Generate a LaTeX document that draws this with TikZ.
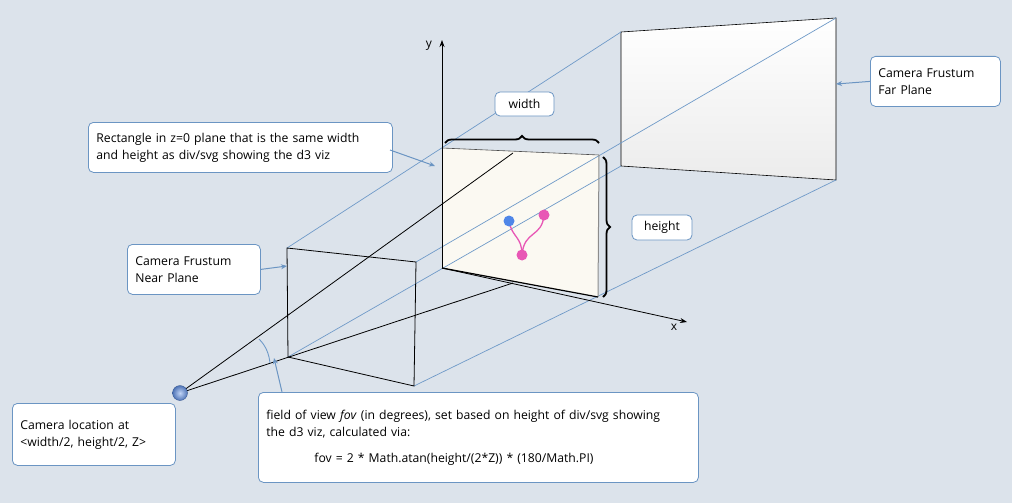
\documentclass[tikz,border=0pt]{standalone}
\usepackage{fontspec}
\setmainfont{Open Sans}
\usetikzlibrary{arrows.meta,decorations.pathreplacing}
\definecolor{bg}{HTML}{DCE3EB}
\definecolor{fr}{HTML}{6F9AC8}
\definecolor{lbl}{HTML}{6B95C3}
\definecolor{pinkd}{HTML}{E857B5}
\definecolor{blued}{HTML}{4F86E8}
\tikzset{
 callout/.style={draw=lbl,line width=0.8pt,rounded corners=5pt,fill=white,align=left,font=\fontsize{12.2}{17}\selectfont,inner sep=0pt,anchor=north west},
 ptr/.style={draw=lbl,line width=1pt,-{Stealth[length=6pt,width=5pt]}},
 frust/.style={draw=fr,line width=0.7pt},
 edge/.style={draw=black,line width=0.8pt},
 brace/.style={decorate,decoration={brace,amplitude=7pt},line width=1.8pt}
}
\begin{document}
\begin{tikzpicture}[x=1pt,y=-1pt]
\fill[bg] (0,0) rectangle (1012,503);
\useasboundingbox (0,0) rectangle (1012,503);
\coordinate (nTL) at (287,248); \coordinate (nTR) at (416,262);
\coordinate (nBR) at (414,386); \coordinate (nBL) at (288,357);
\coordinate (fTL) at (621,32); \coordinate (fTR) at (836,18);
\coordinate (fBR) at (836,180); \coordinate (fBL) at (621,166);
\coordinate (rTL) at (442,148); \coordinate (rTR) at (599,155);
\coordinate (rBR) at (598,297); \coordinate (rBL) at (442,268);
\coordinate (cam) at (180,393);
\shade[top color=white,bottom color=gray!15] (fTL)--(fTR)--(fBR)--(fBL)--cycle;
\draw[edge,line width=0.6pt] (fTL)--(fTR)--(fBR)--(fBL)--cycle;
\draw[frust] (nTL)--(fTL) (nTR)--(fTR) (nBR)--(fBR) (nBL)--(fBL);
\coordinate (rayT) at (513,153); \coordinate (rayB) at (513,283);
\draw[edge] (cam)--(rayB);
\fill[fill={rgb,255:red,251;green,249;blue,242}] (rTL)--(rTR)--(rBR)--(rBL)--cycle;
\begin{scope}
\clip (rTL)--(rTR)--(rBR)--(rBL)--cycle;
\draw[frust] (nTR)--(fTR) (nBR)--(fBR) (nBL)--(fBL) (nTL)--(fTL);
\end{scope}
\draw[black!70,line width=0.6pt] (rTL)--(rTR);
\draw[black!45,line width=1pt] (rTR)--(rBR);
\draw[black,line width=1.2pt] (rBR)--(rBL);
\draw[black!70,line width=1pt] (rBL)--(rTL);
\draw[edge] (cam)--(rayT);
\coordinate (yend) at (442,40); \coordinate (xend) at (687,322);
\draw[black,line width=0.8pt,-{Stealth[length=7pt,width=5pt]}] (rBL)--(yend);
\draw[black,line width=0.8pt,-{Stealth[length=7pt,width=5pt]}] (rBL)--(xend);
\node[font=\fontsize{12}{14}\selectfont] (ylab) at (429,46) {y};
\node[font=\fontsize{12}{14}\selectfont] (xlab) at (674,327) {x};
\draw[edge] (nTL)--(nTR)--(nBR)--(nBL)--cycle;
\draw[pinkd,line width=1.3pt] (509,221) .. controls (512,238) and (522,236) .. (522,255);
\draw[pinkd,line width=1.3pt] (544,215) .. controls (542,238) and (524,230) .. (522,255);
\fill[blued] (509,221) circle (5.5);
\fill[pinkd] (544,215) circle (5.5);
\fill[pinkd] (522,255) circle (5.5);
\shade[inner color=blued!35,outer color=blued!75!black!90,draw=blued!60!black,line width=0.3pt] (cam) circle (7.5);
\draw[fr,line width=0.9pt] (259,339) .. controls (266,346) and (269,354) .. (270,363);
\draw[brace] (445,143)--(599,143);
\draw[brace] (603,157)--(603,297);
\node[callout,minimum width=59pt,minimum height=24pt,align=center,anchor=center] (w) at (524.5,104) {width};
\node[callout,minimum width=60pt,minimum height=25pt,align=center,anchor=center] (h) at (662,227.5) {height};
\node[callout,text width=288pt,minimum height=50pt,inner xsep=8pt] (rect) at (88,122) {Rectangle in z=0 plane that is the same width\\and height as div/svg showing the d3 viz};
\node[callout,text width=114pt,minimum height=50pt,inner xsep=8pt] (far) at (870,56) {Camera Frustum\\Far Plane};
\node[callout,text width=117pt,minimum height=50pt,inner xsep=8pt] (near) at (127,244) {Camera Frustum\\Near Plane};
\node[callout,text width=147pt,minimum height=62pt,inner xsep=8pt] (camlab) at (12,403) {Camera location at\\<width/2, height/2, Z>};
\node[callout,text width=424pt,minimum height=90pt,inner xsep=8pt] (fov) at (258,392) {field of view \textit{fov} (in degrees), set based on height of div/svg showing\\the d3 viz, calculated via:\\[9pt]\hspace*{48pt}fov = 2 * Math.atan(height/(2*Z)) * (180/Math.PI)};
\coordinate (p1) at (435,166); \coordinate (p2) at (836,84); \coordinate (p3) at (287,266); \coordinate (p4) at (274,358);
\coordinate (q1) at (390,150); \coordinate (q4) at (282,392);
\draw[ptr] (q1) -- (p1);
\draw[ptr] (far.west) -- (p2);
\draw[ptr] (near.east) -- (p3);
\draw[ptr] (q4) -- (p4);
\end{tikzpicture}
\end{document}
